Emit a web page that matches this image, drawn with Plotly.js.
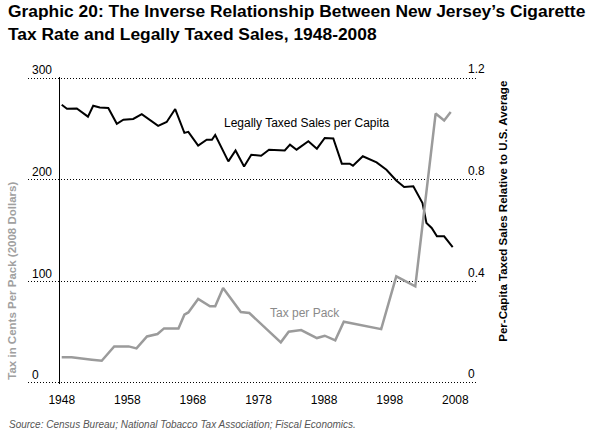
<!DOCTYPE html>
<html>
<head>
<meta charset="utf-8">
<script src="https://cdn.plot.ly/plotly-3.0.1.min.js"></script>
<style>html,body{margin:0;padding:0;background:#fff;}#chart{width:602px;height:443px;}</style>
</head>
<body>
<div id="chart"></div>
<script>
// Legally taxed sales per capita relative to U.S. average (right axis)
var salesYears = [1948,1948.8,1950.3,1952,1952.8,1953.8,1955.1,1956.4,1957.4,1958.9,1960.2,1962.7,1964,1965.3,1966.7,1967.3,1968.8,1970.1,1970.9,1971.4,1973.4,1974.5,1975.8,1976.9,1978.4,1979.6,1982,1982.8,1983.8,1985.6,1986.9,1988.1,1989.4,1990.7,1991.9,1992.4,1993.9,1996,1997.5,1999,2000.2,2001.6,2003,2003.6,2004.4,2005.2,2006.3,2007.6];
var salesRatio = [1.095,1.079,1.08,1.048,1.091,1.084,1.082,1.02,1.036,1.039,1.058,1.012,1.027,1.078,0.984,0.988,0.934,0.957,0.957,0.976,0.872,0.915,0.852,0.898,0.894,0.918,0.915,0.938,0.918,0.951,0.922,0.964,0.962,0.863,0.863,0.855,0.892,0.868,0.839,0.797,0.771,0.774,0.708,0.63,0.61,0.577,0.577,0.535];

// Tax per pack in cents, 2008 dollars (left axis)
var taxYears = [1948,1949.5,1952.6,1954.1,1956,1958.2,1959.4,1961,1962.6,1963.6,1965.8,1966.7,1967.3,1968.8,1970.6,1971.4,1972.6,1975.3,1976.6,1981.4,1982.6,1984.5,1986.9,1988.1,1989.7,1991,1996.7,1999,2001.9,2005,2006.3,2007.3];
var taxCents = [25.2,25.2,22.9,21.9,36,36,34,45.8,48.2,53.7,53.7,67.2,69.4,82.6,75.4,75.4,93.4,69.8,68.8,40,50.5,52,44.2,46.5,41.9,60.3,53,104.9,95,265,258.3,266.5];

var xTickVals = [1948,1958,1968,1978,1988,1998,2008];
var leftTickVals = [0,100,200,300];
var rightTickVals = [0,0.4,0.8,1.2];
var rightTickText = ['0','0.4','0.8','1.2'];

var baseFamily = 'Liberation Sans, Arial, sans-serif';
var tickFont = {family:baseFamily, size:12, color:'#000'};

var traces = [
  {x: taxYears, y: taxCents, type:'scatter', mode:'lines', name:'Tax per Pack',
   line:{color:'#9b9b9b', width:2.5}, yaxis:'y3', hoverinfo:'x+y'},
  {x: salesYears, y: salesRatio, type:'scatter', mode:'lines', name:'Legally Taxed Sales per Capita',
   line:{color:'#000', width:2}, yaxis:'y2', hoverinfo:'x+y'}
];

var layout = {
  width:602, height:443,
  margin:{l:28, r:124, t:77.3, b:58.7, pad:0},
  paper_bgcolor:'#fff', plot_bgcolor:'#fff',
  showlegend:false,
  title:{text:'Graphic 20: The Inverse Relationship Between New Jersey\u2019s Cigarette<br>Tax Rate and Legally Taxed Sales, 1948-2008',
         xref:'container', yref:'container', x:8/602, xanchor:'left', y:1-17/443, yanchor:'top',
         font:{family:baseFamily, size:17.4, color:'#000', weight:'bold'}},
  xaxis:{range:[1942.86,2011.46], tickvals:xTickVals, ticks:'', showgrid:false, zeroline:false,
         showline:false, tickfont:tickFont, ticklabelstandoff:7},
  yaxis:{range:[-1,301], side:'right', anchor:'free', position:0, tickvals:leftTickVals, ticks:'', showline:false, zeroline:false,
         showgrid:true, gridcolor:'#000', gridwidth:1, griddash:'1px,2px',
         ticklabelposition:'outside', ticklabelstandoff:3, ticklabelshift:-8, tickfont:tickFont},
  yaxis2:{range:[-0.004,1.204], overlaying:'y', side:'right', anchor:'x', tickvals:rightTickVals, ticktext:rightTickText,
          ticks:'', showgrid:false, zeroline:false, showline:false,
          ticklabelposition:'outside', ticklabelstandoff:-11, ticklabelshift:-9, tickfont:tickFont},
  yaxis3:{range:[-1,301], overlaying:'y', anchor:'free', position:0.0685, side:'left',
          showline:true, linecolor:'#000', linewidth:1.5, ticks:'', showticklabels:false, showgrid:false, zeroline:false},
  annotations:[
    {text:'Legally Taxed Sales per Capita', x:1972.5, y:256, xref:'x', yref:'y', xanchor:'left', yanchor:'middle', showarrow:false,
     font:{family:baseFamily, size:12, color:'#000'}},
    {text:'Tax per Pack', x:1979.4, y:69.2, xref:'x', yref:'y', xanchor:'left', yanchor:'middle', showarrow:false,
     font:{family:baseFamily, size:12, color:'#8a8a8a'}},
    {text:'Tax in Cents Per Pack (2008 Dollars)', textangle:-90, xref:'paper', yref:'paper',
     x:(12-28)/450, y:(384.3-281)/307, xanchor:'center', yanchor:'middle', showarrow:false,
     font:{family:baseFamily, size:11.5, color:'#a0a0a0', weight:'bold'}},
    {text:'Per-Capita Taxed Sales Relative to U.S. Average', textangle:-90, xref:'paper', yref:'paper',
     x:(503-28)/450, y:(384.3-212)/307, xanchor:'center', yanchor:'middle', showarrow:false,
     font:{family:baseFamily, size:11.5, color:'#000', weight:'bold'}},
    {text:'<i>Source: Census Bureau; National Tobacco Tax Association; Fiscal Economics.</i>', xref:'paper', yref:'paper',
     x:(7-28)/450, y:(384.3-425)/307, xanchor:'left', yanchor:'middle', showarrow:false,
     font:{family:baseFamily, size:10, color:'#555'}}
  ]
};

Plotly.newPlot('chart', traces, layout, {displayModeBar:false, staticPlot:true});
</script>
</body>
</html>
